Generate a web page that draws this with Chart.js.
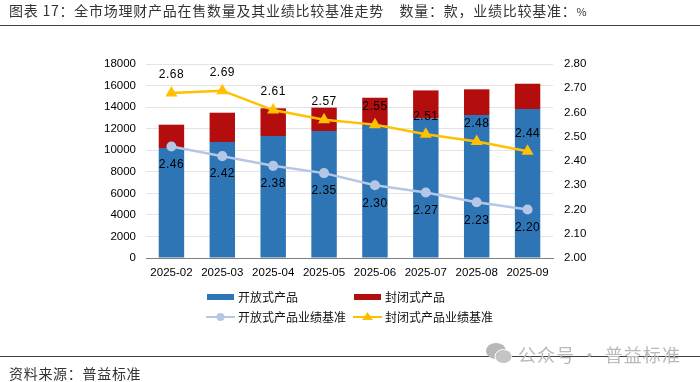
<!DOCTYPE html>
<html><head><meta charset="utf-8">
<style>
html,body{margin:0;padding:0;background:#fff;width:700px;height:382px;overflow:hidden}
#wrap{position:relative;width:700px;height:382px;font-family:"Noto Sans CJK SC",sans-serif}
canvas{position:absolute;left:0;top:0}
.t{position:absolute;white-space:pre;line-height:1}
.rule{position:absolute;left:0;width:700px;height:1px;background:#404040}
</style></head><body>
<div id="wrap">
<canvas id="c" width="700" height="382"></canvas>
<div class="t" style="left:9px;top:3px;font-size:14px;letter-spacing:.75px;color:#333">图表 17：全市场理财产品在售数量及其业绩比较基准走势    数量：款，业绩比较基准：<span style="font-size:11px">%</span></div>
<div class="rule" style="top:25px"></div>
<div class="rule" style="top:356px"></div>
<div class="t" style="left:9px;top:366px;font-size:14px;letter-spacing:.7px;color:#333">资料来源：普益标准</div>
<svg style="position:absolute;left:486px;top:343px" width="26" height="22" viewBox="0 0 26 22"><ellipse cx="10" cy="8" rx="10" ry="8" fill="#b8b8b8"/><ellipse cx="17.5" cy="13.5" rx="8.5" ry="7" fill="#c4c4c4" stroke="#fff" stroke-width="1"/></svg>
<div class="t" style="left:518px;top:345px;font-size:18px;letter-spacing:1.1px;color:#b9b9b9">公众号 · 普益标准</div>
</div>
<script src="https://cdn.jsdelivr.net/npm/chart.js@4/dist/chart.umd.min.js"></script>
<script>
const categories=['2025-02','2025-03','2025-04','2025-05','2025-06','2025-07','2025-08','2025-09'];
const openProducts=[10200,10760,11320,11780,12340,12960,13270,13820];
const closedProducts=[2170,2720,2570,2170,2530,2590,2380,2350];
const openBenchmark=[2.46,2.42,2.38,2.35,2.30,2.27,2.23,2.20];
const closedBenchmark=[2.68,2.69,2.61,2.57,2.55,2.51,2.48,2.44];
const tickFont={family:'"Liberation Sans",Arial,sans-serif',size:11.5};
const blue='#2E75B6',red='#B30D0D',lineBlue='#B4C7E7',gold='#FFC000';

const valueLabels={id:'valueLabels',afterDatasetsDraw(ch){
  const c=ch.ctx;c.save();
  c.font='12px "Liberation Sans",Arial,sans-serif';c.fillStyle='#000';c.textAlign='center';c.textBaseline='middle';
  c.letterSpacing='0.5px';
  [[2,18],[3,-18]].forEach(([di,off])=>{
    ch.getDatasetMeta(di).data.forEach((p,i)=>{
      c.fillText(ch.data.datasets[di].data[i].toFixed(2),p.x,p.y+off);
    });
  });
  c.restore();
}};
const customLegend={id:'customLegend',afterDraw(ch){
  const c=ch.ctx;c.save();
  const xs=[207,354],ys=[297,317];
  c.font='12px "Noto Sans CJK SC",sans-serif';c.textBaseline='middle';
  ch.data.datasets.forEach((d,i)=>{
    const col=i%2,row=i<2?0:1,x=xs[col],y=ys[row];
    if(row===0){c.fillStyle=d.backgroundColor;c.fillRect(x,y-3,27,6);}
    else{
      c.strokeStyle=d.borderColor;c.lineWidth=2;c.beginPath();c.moveTo(x-1,y);c.lineTo(x+28,y);c.stroke();
      c.fillStyle=d.borderColor;c.beginPath();
      if(d.pointStyle==='triangle'){c.moveTo(x+13.5,y-5);c.lineTo(x+19,y+3);c.lineTo(x+8,y+3);c.closePath();}
      else c.arc(x+13.5,y,4,0,Math.PI*2);
      c.fill();
    }
    c.fillStyle='#111';c.fillText(d.label,x+31,y);
  });
  c.restore();
}};
new Chart(document.getElementById('c'),{
  data:{labels:categories,datasets:[
    {type:'bar',label:'开放式产品',data:openProducts,backgroundColor:blue,yAxisID:'y',stack:'s',order:3,barPercentage:.5,categoryPercentage:1},
    {type:'bar',label:'封闭式产品',data:closedProducts,backgroundColor:red,yAxisID:'y',stack:'s',order:3,barPercentage:.5,categoryPercentage:1},
    {type:'line',label:'开放式产品业绩基准',data:openBenchmark,borderColor:lineBlue,backgroundColor:lineBlue,borderWidth:2.5,pointStyle:'circle',pointRadius:3.8,pointBackgroundColor:lineBlue,pointBorderColor:lineBlue,yAxisID:'y1',order:2,tension:0},
    {type:'line',label:'封闭式产品业绩基准',data:closedBenchmark,borderColor:gold,backgroundColor:gold,borderWidth:2.5,pointStyle:'triangle',pointRadius:4.5,pointBackgroundColor:gold,pointBorderColor:gold,yAxisID:'y1',order:1,tension:0}
  ]},
  options:{responsive:false,animation:false,
    layout:{padding:{top:64,left:0,right:0,bottom:0}},
    plugins:{legend:{display:false},tooltip:{enabled:false}},
    scales:{
      x:{stacked:true,grid:{display:false,drawTicks:false},border:{color:'#7f7f7f',width:1},
         ticks:{font:tickFont,color:'#000',padding:8,maxRotation:0,autoSkip:false},
         afterFit(s){s.height=124;}},
      y:{stacked:true,position:'left',min:0,max:18000,grid:{color:'#E4E4E4',lineWidth:1,drawTicks:false},border:{display:false},
         ticks:{stepSize:2000,font:tickFont,color:'#000',padding:10,callback:v=>String(v)},
         afterFit(s){s.width=146;}},
      y1:{position:'right',min:2,max:2.8,grid:{display:false,drawTicks:false},border:{display:false},
         ticks:{stepSize:.1,font:tickFont,color:'#000',padding:11,callback:v=>v.toFixed(2)},
         afterFit(s){s.width=147;}}
    }
  },
  plugins:[valueLabels,customLegend]
});
</script>
</body></html>
